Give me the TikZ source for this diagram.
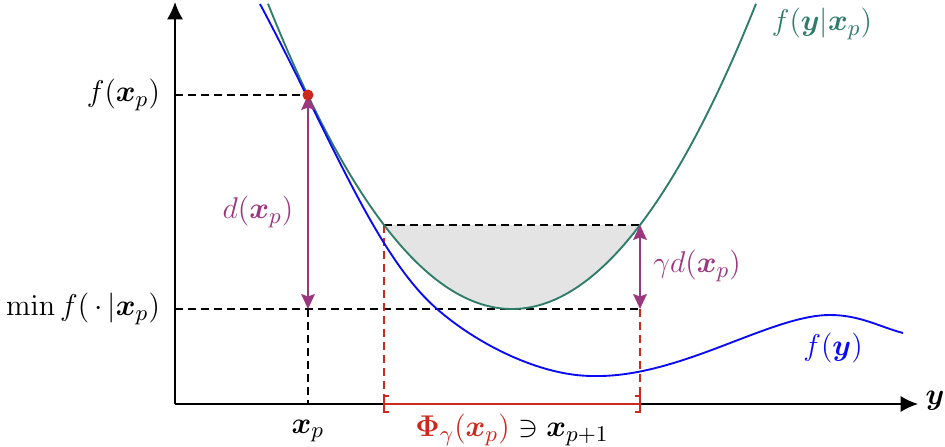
\documentclass[tikz,border=0pt]{standalone}
\usepackage{amsmath,bm}
\usetikzlibrary{arrows.meta}
\definecolor{tealc}{RGB}{46,125,105}
\definecolor{magc}{RGB}{155,55,125}
\definecolor{redc}{RGB}{205,40,30}
\definecolor{bluec}{RGB}{10,10,245}
\definecolor{grayf}{RGB}{228,228,228}
\tikzset{
  axis/.style={line width=0.7pt,-{Latex[length=7pt,width=6.5pt]}},
  guide/.style={line width=0.6pt,dash pattern=on 3.2pt off 2pt},
  rguide/.style={line width=0.6pt,dash pattern=on 3.2pt off 2pt,draw=redc},
  darrow/.style={line width=0.7pt,draw=magc,{Stealth[length=6pt,width=5.5pt,inset=1pt]}-{Stealth[length=6pt,width=5.5pt,inset=1pt]}},
  curve/.style={line width=0.75pt},
  lbl/.style={inner sep=1pt}
}
\begin{document}
\begin{tikzpicture}[x=0.4pt,y=-0.4pt,font=\fontsize{13}{15}\selectfont]
\useasboundingbox (0,0) rectangle (945,446);
% coordinates
\coordinate (O) at (175,404);
\coordinate (Ytop) at (175,2);
\coordinate (Xend) at (918,404);
\coordinate (P) at (308,95);
\coordinate (Pmin) at (308,309);
\coordinate (Pax) at (308,404);
\coordinate (Lf) at (175,95);
\coordinate (Lmin) at (175,309);
\coordinate (A) at (384,225);
\coordinate (B) at (640,225);
\coordinate (Bmin) at (640,309);
\coordinate (Aax) at (384,404);
\coordinate (Bax) at (640,404);
% gray region
\fill[grayf] plot[domain=384:640,samples=60] (\x,{309-51.27*((\x-512)/100)^2}) -- cycle;
% guides
\draw[guide] (Lf) -- (P);
\draw[guide] (Lmin) -- (Bmin);
\draw[guide] (Pmin) -- (Pax);
\draw[guide] (A) -- (B);
\draw[rguide] (A) -- (Aax);
\draw[rguide] (Bmin) -- (Bax);
% axes
\draw[axis] (O) -- (Ytop);
\draw[axis] (O) -- (Xend);
% curves
\draw[curve,draw=tealc] plot[domain=268:756,samples=120] (\x,{309-51.27*((\x-512)/100)^2});
\draw[curve,draw=bluec] (260,4) .. controls (330,135) and (375,255) .. (437,309)
  .. controls (477,344) and (540,376) .. (593,376)
  .. controls (680,378) and (770,315) .. (830,315)
  .. controls (860,315) and (880,327) .. (903,333);
% arrows
\draw[darrow] (P) -- (Pmin);
\draw[darrow] (B) -- (Bmin);
\fill[redc] (P) circle (2.2pt);
% bracket
\draw[redc,line width=0.9pt] (Aax) -- (Bax);
\draw[redc,line width=0.9pt] ([xshift=2pt]384,396) -- (384,396) -- (384,412) -- ([xshift=2pt]384,412);
\draw[redc,line width=0.9pt] ([xshift=-2pt]640,396) -- (640,396) -- (640,412) -- ([xshift=-2pt]640,412);
% labels
\node[lbl,anchor=east] (tf) at (163,95) {$f(\bm{x}_p)$};
\node[lbl,anchor=east] (tmin) at (163,309) {$\min f(\,\cdot\,|\bm{x}_p)$};
\node[lbl,text=magc] (td) at (258,212) {$d(\bm{x}_p)$};
\node[lbl,text=magc] (tgd) at (697,266) {$\gamma d(\bm{x}_p)$};
\node[lbl] (txp) at (308,431) {$\bm{x}_p$};
\node[lbl] (tphi) at (512,430) {$\color{redc}\bm{\Phi}_\gamma(\bm{x}_p)\color{black}\ni\bm{x}_{p+1}$};
\node[lbl] (ty) at (935,401) {$\bm{y}$};
\node[lbl,text=tealc] (tfc) at (822,24) {$f(\bm{y}|\bm{x}_p)$};
\node[lbl,text=bluec] (tfy) at (833,348) {$f(\bm{y})$};
\end{tikzpicture}
\end{document}
